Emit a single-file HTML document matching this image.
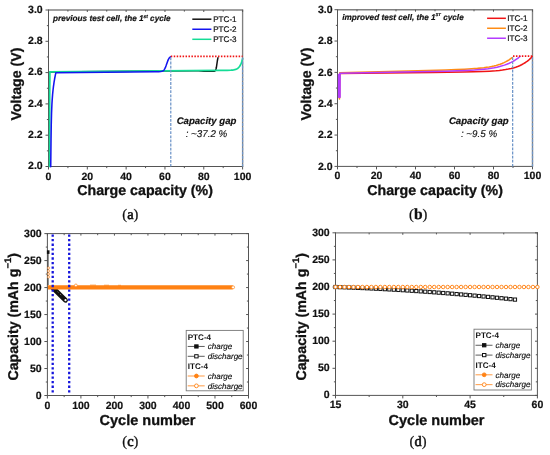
<!DOCTYPE html>
<html><head><meta charset="utf-8"><title>Figure</title>
<style>
html,body{margin:0;padding:0;background:#fff}
svg{display:block}
text{font-family:"Liberation Sans",Arial,sans-serif;fill:#111;text-rendering:geometricPrecision}
.tk{font-weight:bold;stroke:#111;stroke-width:0.2}
.ttl{font-weight:bold;stroke:#111;stroke-width:0.3}
.ann{font-weight:bold;font-style:italic;stroke:#111;stroke-width:0.2}
.anr{font-style:italic;stroke:#111;stroke-width:0.15}
.lg{stroke:#111;stroke-width:0.2}
.lgb{font-weight:bold}
.lgi{font-style:italic;stroke:#111;stroke-width:0.15}
.cap{font-family:"Liberation Serif","DejaVu Serif",serif;stroke:#111;stroke-width:0.25}
.capl{stroke-width:0.6}
.capb{font-weight:bold;font-size:15.5px}
</style></head><body>
<svg width="550" height="455" viewBox="0 0 550 455">
<rect width="550" height="455" fill="#fff"/>
<path d="M48.0 166.5H243.1" stroke="#555" stroke-width="1" fill="none"/>
<path d="M48.5 9.5V167.0" stroke="#555" stroke-width="1" fill="none"/>
<path d="M48.0 10.0H243.1" stroke="#808080" stroke-width="1.35" fill="none"/>
<path d="M242.6 9.5V167.0" stroke="#808080" stroke-width="1.35" fill="none"/>
<path d="M48.50 166.5v3M48.50 10.0v2M87.32 166.5v3M87.32 10.0v2M126.14 166.5v3M126.14 10.0v2M164.96 166.5v3M164.96 10.0v2M203.78 166.5v3M203.78 10.0v2M242.60 166.5v3M242.60 10.0v2M67.91 166.5v1.6M67.91 10.0v1.6M106.73 166.5v1.6M106.73 10.0v1.6M145.55 166.5v1.6M145.55 10.0v1.6M184.37 166.5v1.6M184.37 10.0v1.6M223.19 166.5v1.6M223.19 10.0v1.6M48.5 166.50h-3M48.5 135.20h-3M48.5 103.90h-3M48.5 72.60h-3M48.5 41.30h-3M48.5 10.00h-3M48.5 150.85h-1.6M48.5 119.55h-1.6M48.5 88.25h-1.6M48.5 56.95h-1.6M48.5 25.65h-1.6" stroke="#555" stroke-width="1" fill="none"/>
<text x="48.50" y="179.50" text-anchor="middle" class="tk" font-size="10.5">0</text>
<text x="87.32" y="179.50" text-anchor="middle" class="tk" font-size="10.5">20</text>
<text x="126.14" y="179.50" text-anchor="middle" class="tk" font-size="10.5">40</text>
<text x="164.96" y="179.50" text-anchor="middle" class="tk" font-size="10.5">60</text>
<text x="203.78" y="179.50" text-anchor="middle" class="tk" font-size="10.5">80</text>
<text x="242.60" y="179.50" text-anchor="middle" class="tk" font-size="10.5">100</text>
<text x="42.70" y="169.10" text-anchor="end" class="tk" font-size="10.5">2.0</text>
<text x="42.70" y="137.80" text-anchor="end" class="tk" font-size="10.5">2.2</text>
<text x="42.70" y="106.50" text-anchor="end" class="tk" font-size="10.5">2.4</text>
<text x="42.70" y="75.20" text-anchor="end" class="tk" font-size="10.5">2.6</text>
<text x="42.70" y="43.90" text-anchor="end" class="tk" font-size="10.5">2.8</text>
<text x="42.70" y="12.60" text-anchor="end" class="tk" font-size="10.5">3.0</text>
<path d="M50.05 71.97L193.10 70.70L196.21 70.70L198.54 70.76L203.97 71.18L206.11 71.28L210.19 71.31L213.68 71.25L214.26 71.18L214.65 71.07L215.04 70.85L215.23 70.67L215.62 70.09L216.01 69.02L216.40 67.27L217.37 60.75L217.76 58.63L217.95 57.85" fill="none" stroke="#111" stroke-width="1.5" stroke-linejoin="round" stroke-linecap="round" />
<path d="M49.60 166.50L49.70 96.07L49.90 71.97L219.70 70.45L227.07 70.35L230.95 70.19L232.51 70.06L233.67 69.89L234.64 69.70L235.61 69.42L236.39 69.11L237.17 68.71L237.94 68.18L238.52 67.67L239.11 67.04L239.69 66.26L240.27 65.29L240.85 64.10L241.44 62.62L241.82 61.44L242.60 58.52" fill="none" stroke="#14dc96" stroke-width="1.7" stroke-linejoin="round" stroke-linecap="round" />
<path d="M50.73 166.66L51.03 138.49L51.25 124.40L51.53 113.45L51.93 104.06L52.22 99.36L52.58 94.67L53.04 89.97L53.41 86.84L54.07 82.15L54.59 79.02L55.19 75.89L55.88 72.69L154.87 71.80L158.75 71.73L160.69 71.59L161.85 71.35L162.44 71.14L162.82 70.95L163.60 70.37L163.99 69.95L164.38 69.43L164.96 68.42L165.54 67.13L166.12 65.58L167.48 61.63L168.07 60.15L168.45 59.32L168.84 58.62L169.42 57.79L170.01 57.21L170.59 56.80" fill="none" stroke="#1414f0" stroke-width="1.55" stroke-linejoin="round" stroke-linecap="round" />
<path d="M170.78 56.32H242.6" stroke="#f01414" stroke-width="1.7" stroke-dasharray="1.5 1.45" fill="none"/>
<path d="M170.78 57.52V166.5M242.6 57.52V166.5" stroke="#6e95c8" stroke-width="1.25" stroke-dasharray="2.8 1.3" fill="none"/>
<text x="145.1" y="194.5" text-anchor="middle" class="ttl" font-size="14.2">Charge capacity (%)</text>
<text transform="translate(20.8 84) rotate(-90)" text-anchor="middle" class="ttl" font-size="14.2">Voltage (V)</text>
<text x="53" y="21.4" class="ann" font-size="8.2">previous test cell, the 1<tspan dy="-3.2" font-size="4.8">st</tspan><tspan dy="3.2"> cycle</tspan></text>
<path d="M192.3 19.20H211.4" stroke="#111" stroke-width="1.5"/>
<text x="213.2" y="22.10" class="lg" font-size="8.1">PTC-1</text>
<path d="M192.3 29.25H211.4" stroke="#1414f0" stroke-width="1.5"/>
<text x="213.2" y="32.15" class="lg" font-size="8.1">PTC-2</text>
<path d="M192.3 39.30H211.4" stroke="#14dc96" stroke-width="1.5"/>
<text x="213.2" y="42.20" class="lg" font-size="8.1">PTC-3</text>
<text x="206.5" y="123.7" text-anchor="middle" class="ann" font-size="9.6">Capacity gap</text>
<text x="206.5" y="136.8" text-anchor="middle" class="anr" font-size="9.8">: ~37.2 %</text>
<text x="130.4" y="219.2" text-anchor="middle" class="cap" font-size="14.5">(<tspan class="capl">a</tspan>)</text>
<path d="M337.0 166.4H533.0" stroke="#555" stroke-width="1" fill="none"/>
<path d="M337.5 9.2V166.9" stroke="#555" stroke-width="1" fill="none"/>
<path d="M337.0 9.7H533.0" stroke="#808080" stroke-width="1.35" fill="none"/>
<path d="M532.5 9.2V166.9" stroke="#808080" stroke-width="1.35" fill="none"/>
<path d="M337.50 166.4v3M337.50 9.7v2M376.50 166.4v3M376.50 9.7v2M415.50 166.4v3M415.50 9.7v2M454.50 166.4v3M454.50 9.7v2M493.50 166.4v3M493.50 9.7v2M532.50 166.4v3M532.50 9.7v2M357.00 166.4v1.6M357.00 9.7v1.6M396.00 166.4v1.6M396.00 9.7v1.6M435.00 166.4v1.6M435.00 9.7v1.6M474.00 166.4v1.6M474.00 9.7v1.6M513.00 166.4v1.6M513.00 9.7v1.6M337.5 166.40h-3M337.5 135.06h-3M337.5 103.72h-3M337.5 72.38h-3M337.5 41.04h-3M337.5 9.70h-3M337.5 150.73h-1.6M337.5 119.39h-1.6M337.5 88.05h-1.6M337.5 56.71h-1.6M337.5 25.37h-1.6" stroke="#555" stroke-width="1" fill="none"/>
<text x="337.50" y="179.40" text-anchor="middle" class="tk" font-size="10.5">0</text>
<text x="376.50" y="179.40" text-anchor="middle" class="tk" font-size="10.5">20</text>
<text x="415.50" y="179.40" text-anchor="middle" class="tk" font-size="10.5">40</text>
<text x="454.50" y="179.40" text-anchor="middle" class="tk" font-size="10.5">60</text>
<text x="493.50" y="179.40" text-anchor="middle" class="tk" font-size="10.5">80</text>
<text x="532.50" y="179.40" text-anchor="middle" class="tk" font-size="10.5">100</text>
<text x="332.60" y="169.80" text-anchor="end" class="tk" font-size="10.5">2.0</text>
<text x="332.60" y="138.46" text-anchor="end" class="tk" font-size="10.5">2.2</text>
<text x="332.60" y="107.12" text-anchor="end" class="tk" font-size="10.5">2.4</text>
<text x="332.60" y="75.78" text-anchor="end" class="tk" font-size="10.5">2.6</text>
<text x="332.60" y="44.44" text-anchor="end" class="tk" font-size="10.5">2.8</text>
<text x="332.60" y="13.10" text-anchor="end" class="tk" font-size="10.5">3.0</text>
<path d="M339.45 97.45L339.64 74.18L339.84 73.39L432.66 72.44L462.69 72.05L474.00 71.82L482.58 71.55L489.60 71.21L495.84 70.77L499.35 70.44L502.47 70.06L505.59 69.60L508.32 69.11L511.05 68.51L513.39 67.90L515.73 67.18L517.68 66.48L519.63 65.68L521.58 64.75L523.53 63.69L525.48 62.47L527.43 61.06L528.99 59.79L530.55 58.36L532.11 56.76" fill="none" stroke="#f01414" stroke-width="1.55" stroke-linejoin="round" stroke-linecap="round" />
<path d="M339.45 99.02L339.64 73.48L339.84 72.68L417.84 70.70L445.92 69.92L456.45 69.56L464.64 69.20L471.66 68.80L477.51 68.36L483.75 67.71L486.48 67.34L489.21 66.91L491.55 66.48L493.89 65.97L496.23 65.39L498.18 64.82L500.13 64.18L502.08 63.45L504.03 62.61L505.98 61.65L507.54 60.78L509.10 59.81L510.66 58.73L512.22 57.52" fill="none" stroke="#ff8c14" stroke-width="1.55" stroke-linejoin="round" stroke-linecap="round" />
<path d="M339.45 97.45L339.64 74.03L339.84 73.23L415.50 71.85L445.92 71.18L457.23 70.83L466.59 70.45L474.39 70.00L481.02 69.47L484.53 69.12L488.04 68.69L491.16 68.23L494.28 67.70L497.01 67.14L499.74 66.50L502.08 65.86L504.42 65.12L506.76 64.28L508.71 63.48L511.05 62.40L513.00 61.37L514.95 60.22L516.51 59.20L518.46 57.77L520.02 56.51" fill="none" stroke="#b43cff" stroke-width="1.55" stroke-linejoin="round" stroke-linecap="round" />
<path d="M339.3 97.77V73.95" stroke="#b43cff" stroke-width="2.9" fill="none"/>
<path d="M513.00 56.08H532.5" stroke="#f01414" stroke-width="1.7" stroke-dasharray="1.5 1.45" fill="none"/>
<path d="M512.65 57.28V166.4M532.5 57.28V166.4" stroke="#6e95c8" stroke-width="1.25" stroke-dasharray="2.8 1.3" fill="none"/>
<text x="435.1" y="194.5" text-anchor="middle" class="ttl" font-size="14.2">Charge capacity (%)</text>
<text transform="translate(310.8 84) rotate(-90)" text-anchor="middle" class="ttl" font-size="14.2">Voltage (V)</text>
<text x="342.3" y="19.6" class="ann" font-size="8.2">improved test cell, the 1<tspan dy="-3.2" font-size="4.2">ST</tspan><tspan dy="3.2"> cycle</tspan></text>
<path d="M487.1 18.30H505.9" stroke="#f01414" stroke-width="1.5"/>
<text x="507.2" y="21.20" class="lg" font-size="8.1">ITC-1</text>
<path d="M487.1 28.27H505.9" stroke="#ff8c14" stroke-width="1.5"/>
<text x="507.2" y="31.17" class="lg" font-size="8.1">ITC-2</text>
<path d="M487.1 38.24H505.9" stroke="#b43cff" stroke-width="1.5"/>
<text x="507.2" y="41.14" class="lg" font-size="8.1">ITC-3</text>
<text x="478.8" y="124.3" text-anchor="middle" class="ann" font-size="9.6">Capacity gap</text>
<text x="479" y="137.1" text-anchor="middle" class="anr" font-size="9.8">: ~9.5 %</text>
<text x="418.2" y="219.2" text-anchor="middle" class="cap" font-size="14.5">(<tspan class="capb">b</tspan>)</text>
<path d="M46.9 395.5H249.0" stroke="#555" stroke-width="1" fill="none"/>
<path d="M47.4 233.1V396.0" stroke="#555" stroke-width="1" fill="none"/>
<path d="M46.9 233.6H249.0" stroke="#555" stroke-width="1" fill="none"/>
<path d="M248.5 233.1V396.0" stroke="#555" stroke-width="1" fill="none"/>
<path d="M47.40 395.5v3M47.40 233.6v2M80.92 395.5v3M80.92 233.6v2M114.43 395.5v3M114.43 233.6v2M147.95 395.5v3M147.95 233.6v2M181.47 395.5v3M181.47 233.6v2M214.98 395.5v3M214.98 233.6v2M248.50 395.5v3M248.50 233.6v2M64.16 395.5v1.6M64.16 233.6v1.6M97.67 395.5v1.6M97.67 233.6v1.6M131.19 395.5v1.6M131.19 233.6v1.6M164.71 395.5v1.6M164.71 233.6v1.6M198.22 395.5v1.6M198.22 233.6v1.6M231.74 395.5v1.6M231.74 233.6v1.6M47.4 395.50h-3M248.5 395.50h-2.4M47.4 368.52h-3M248.5 368.52h-2.4M47.4 341.53h-3M248.5 341.53h-2.4M47.4 314.55h-3M248.5 314.55h-2.4M47.4 287.57h-3M248.5 287.57h-2.4M47.4 260.58h-3M248.5 260.58h-2.4M47.4 233.60h-3M248.5 233.60h-2.4M47.4 382.01h-1.6M248.5 382.01h-1.6M47.4 355.02h-1.6M248.5 355.02h-1.6M47.4 328.04h-1.6M248.5 328.04h-1.6M47.4 301.06h-1.6M248.5 301.06h-1.6M47.4 274.07h-1.6M248.5 274.07h-1.6M47.4 247.09h-1.6M248.5 247.09h-1.6" stroke="#555" stroke-width="1" fill="none"/>
<text x="47.40" y="408.50" text-anchor="middle" class="tk" font-size="10.5">0</text>
<text x="80.92" y="408.50" text-anchor="middle" class="tk" font-size="10.5">100</text>
<text x="114.43" y="408.50" text-anchor="middle" class="tk" font-size="10.5">200</text>
<text x="147.95" y="408.50" text-anchor="middle" class="tk" font-size="10.5">300</text>
<text x="181.47" y="408.50" text-anchor="middle" class="tk" font-size="10.5">400</text>
<text x="214.98" y="408.50" text-anchor="middle" class="tk" font-size="10.5">500</text>
<text x="248.50" y="408.50" text-anchor="middle" class="tk" font-size="10.5">600</text>
<text x="41.60" y="398.50" text-anchor="end" class="tk" font-size="10.5">0</text>
<text x="41.60" y="371.52" text-anchor="end" class="tk" font-size="10.5">50</text>
<text x="41.60" y="344.53" text-anchor="end" class="tk" font-size="10.5">100</text>
<text x="41.60" y="317.55" text-anchor="end" class="tk" font-size="10.5">150</text>
<text x="41.60" y="290.57" text-anchor="end" class="tk" font-size="10.5">200</text>
<text x="41.60" y="263.58" text-anchor="end" class="tk" font-size="10.5">250</text>
<text x="41.60" y="236.60" text-anchor="end" class="tk" font-size="10.5">300</text>
<path d="M48.2 252V285" stroke="#222" stroke-width="0.7"/>
<rect x="46.9" y="250.3" width="2.6" height="3.6" fill="#111"/>
<circle cx="48.6" cy="268" r="1.1" fill="#fff" stroke="#ff8214" stroke-width="0.6"/>
<circle cx="48.6" cy="271" r="1.1" fill="#fff" stroke="#ff8214" stroke-width="0.6"/>
<circle cx="48.6" cy="274" r="1.1" fill="#fff" stroke="#ff8214" stroke-width="0.6"/>
<circle cx="48.6" cy="277" r="1.1" fill="#fff" stroke="#ff8214" stroke-width="0.6"/>
<path d="M53 288L65.5 300.2" stroke="#111" stroke-width="4.8" stroke-linecap="round" fill="none"/>
<circle cx="65.5" cy="300.2" r="1.1" fill="#fff"/>
<path d="M57.5 291.6l1 .9M60 294l1.2 1.1" stroke="#999" stroke-width="0.7" fill="none"/>
<path d="M47.90 287.45H232.75" stroke="#ff8214" stroke-width="4.2" fill="none"/>
<path d="M90 285.1h6M104 285.2h5M118 285.3h3" stroke="#ff8214" stroke-width="0.7" fill="none"/>
<circle cx="75.89" cy="285.41" r="1.4" fill="#fff" stroke="#ff8214" stroke-width="0.7"/>
<circle cx="233.08" cy="287.3" r="1.5" fill="#fff" stroke="#ff8214" stroke-width="0.7"/>
<path d="M52.7 234.45V393M69.2 234.45V393" stroke="#1414dc" stroke-width="2.3" stroke-dasharray="2.3 2.28" fill="none"/>
<text x="147.5" y="424.9" text-anchor="middle" class="ttl" font-size="14.5">Cycle number</text>
<text transform="translate(17.6 316.8) rotate(-90)" text-anchor="middle" class="ttl" font-size="14.2">Capacity (mAh g<tspan dy="-6.4" font-size="9.5">−1</tspan><tspan dy="6.4">)</tspan></text>
<rect x="186.2" y="330.4" width="57.00" height="60.40" fill="#fff" stroke="#777" stroke-width="0.9"/>
<text x="187.7" y="339.50" class="lgb" font-size="8.1">PTC-4</text>
<text x="187.7" y="369.05" class="lgb" font-size="8.1">ITC-4</text>
<path d="M187.7 346.45H204.7" stroke="#333" stroke-width="0.8"/>
<rect x="194.70" y="344.85" width="3.4" height="3.2" fill="#111" stroke="#111" stroke-width="1"/>
<text x="207.7" y="349.25" class="lgi" font-size="8.05">charge</text>
<path d="M187.7 356.30H204.7" stroke="#333" stroke-width="0.8"/>
<rect x="194.70" y="354.70" width="3.4" height="3.2" fill="#fff" stroke="#111" stroke-width="1"/>
<text x="207.7" y="359.10" class="lgi" font-size="8.05">discharge</text>
<path d="M187.7 376.00H204.7" stroke="#ff8214" stroke-width="0.8"/>
<circle cx="196.40" cy="376.00" r="1.9" fill="#ff8214" stroke="#ff8214" stroke-width="0.9"/>
<text x="207.7" y="378.80" class="lgi" font-size="8.05">charge</text>
<path d="M187.7 385.85H204.7" stroke="#ff8214" stroke-width="0.8"/>
<circle cx="196.40" cy="385.85" r="1.9" fill="#fff" stroke="#ff8214" stroke-width="0.9"/>
<text x="207.7" y="388.65" class="lgi" font-size="8.05">discharge</text>
<text x="130.4" y="445.8" text-anchor="middle" class="cap" font-size="14.5">(<tspan class="capl">c</tspan>)</text>
<path d="M335.0 395.4H537.9" stroke="#555" stroke-width="1" fill="none"/>
<path d="M335.5 232.3V395.9" stroke="#555" stroke-width="1" fill="none"/>
<path d="M335.0 232.8H537.9" stroke="#808080" stroke-width="1.35" fill="none"/>
<path d="M537.4 232.3V395.9" stroke="#555" stroke-width="1" fill="none"/>
<path d="M335.50 395.4v3M335.50 232.8v2M402.80 395.4v3M402.80 232.8v2M470.10 395.4v3M470.10 232.8v2M537.40 395.4v3M537.40 232.8v2M369.15 395.4v1.6M369.15 232.8v1.6M436.45 395.4v1.6M436.45 232.8v1.6M503.75 395.4v1.6M503.75 232.8v1.6M335.5 395.40h-3M537.4 395.40h-2.4M335.5 368.30h-3M537.4 368.30h-2.4M335.5 341.20h-3M537.4 341.20h-2.4M335.5 314.10h-3M537.4 314.10h-2.4M335.5 287.00h-3M537.4 287.00h-2.4M335.5 259.90h-3M537.4 259.90h-2.4M335.5 232.80h-3M537.4 232.80h-2.4M335.5 381.85h-1.6M537.4 381.85h-1.6M335.5 354.75h-1.6M537.4 354.75h-1.6M335.5 327.65h-1.6M537.4 327.65h-1.6M335.5 300.55h-1.6M537.4 300.55h-1.6M335.5 273.45h-1.6M537.4 273.45h-1.6M335.5 246.35h-1.6M537.4 246.35h-1.6" stroke="#555" stroke-width="1" fill="none"/>
<text x="335.50" y="408.40" text-anchor="middle" class="tk" font-size="10.5">15</text>
<text x="402.80" y="408.40" text-anchor="middle" class="tk" font-size="10.5">30</text>
<text x="470.10" y="408.40" text-anchor="middle" class="tk" font-size="10.5">45</text>
<text x="537.40" y="408.40" text-anchor="middle" class="tk" font-size="10.5">60</text>
<text x="329.70" y="398.40" text-anchor="end" class="tk" font-size="10.5">0</text>
<text x="329.70" y="371.30" text-anchor="end" class="tk" font-size="10.5">50</text>
<text x="329.70" y="344.20" text-anchor="end" class="tk" font-size="10.5">100</text>
<text x="329.70" y="317.10" text-anchor="end" class="tk" font-size="10.5">150</text>
<text x="329.70" y="290.00" text-anchor="end" class="tk" font-size="10.5">200</text>
<text x="329.70" y="262.90" text-anchor="end" class="tk" font-size="10.5">250</text>
<text x="329.70" y="235.80" text-anchor="end" class="tk" font-size="10.5">300</text>
<rect x="333.90" y="285.40" width="3.2" height="3.2" fill="#fff" stroke="#111" stroke-width="1"/>
<rect x="338.39" y="285.56" width="3.2" height="3.2" fill="#fff" stroke="#111" stroke-width="1"/>
<rect x="342.87" y="285.72" width="3.2" height="3.2" fill="#fff" stroke="#111" stroke-width="1"/>
<rect x="347.36" y="285.90" width="3.2" height="3.2" fill="#fff" stroke="#111" stroke-width="1"/>
<rect x="351.85" y="286.08" width="3.2" height="3.2" fill="#fff" stroke="#111" stroke-width="1"/>
<rect x="356.33" y="286.27" width="3.2" height="3.2" fill="#fff" stroke="#111" stroke-width="1"/>
<rect x="360.82" y="286.46" width="3.2" height="3.2" fill="#fff" stroke="#111" stroke-width="1"/>
<rect x="365.31" y="286.67" width="3.2" height="3.2" fill="#fff" stroke="#111" stroke-width="1"/>
<rect x="369.79" y="286.88" width="3.2" height="3.2" fill="#fff" stroke="#111" stroke-width="1"/>
<rect x="374.28" y="287.10" width="3.2" height="3.2" fill="#fff" stroke="#111" stroke-width="1"/>
<rect x="378.77" y="287.33" width="3.2" height="3.2" fill="#fff" stroke="#111" stroke-width="1"/>
<rect x="383.25" y="287.57" width="3.2" height="3.2" fill="#fff" stroke="#111" stroke-width="1"/>
<rect x="387.74" y="287.82" width="3.2" height="3.2" fill="#fff" stroke="#111" stroke-width="1"/>
<rect x="392.23" y="288.07" width="3.2" height="3.2" fill="#fff" stroke="#111" stroke-width="1"/>
<rect x="396.71" y="288.33" width="3.2" height="3.2" fill="#fff" stroke="#111" stroke-width="1"/>
<rect x="401.20" y="288.60" width="3.2" height="3.2" fill="#fff" stroke="#111" stroke-width="1"/>
<rect x="405.69" y="288.88" width="3.2" height="3.2" fill="#fff" stroke="#111" stroke-width="1"/>
<rect x="410.17" y="289.17" width="3.2" height="3.2" fill="#fff" stroke="#111" stroke-width="1"/>
<rect x="414.66" y="289.46" width="3.2" height="3.2" fill="#fff" stroke="#111" stroke-width="1"/>
<rect x="419.15" y="289.77" width="3.2" height="3.2" fill="#fff" stroke="#111" stroke-width="1"/>
<rect x="423.63" y="290.08" width="3.2" height="3.2" fill="#fff" stroke="#111" stroke-width="1"/>
<rect x="428.12" y="290.40" width="3.2" height="3.2" fill="#fff" stroke="#111" stroke-width="1"/>
<rect x="432.61" y="290.72" width="3.2" height="3.2" fill="#fff" stroke="#111" stroke-width="1"/>
<rect x="437.09" y="291.06" width="3.2" height="3.2" fill="#fff" stroke="#111" stroke-width="1"/>
<rect x="441.58" y="291.40" width="3.2" height="3.2" fill="#fff" stroke="#111" stroke-width="1"/>
<rect x="446.07" y="291.75" width="3.2" height="3.2" fill="#fff" stroke="#111" stroke-width="1"/>
<rect x="450.55" y="292.11" width="3.2" height="3.2" fill="#fff" stroke="#111" stroke-width="1"/>
<rect x="455.04" y="292.48" width="3.2" height="3.2" fill="#fff" stroke="#111" stroke-width="1"/>
<rect x="459.53" y="292.86" width="3.2" height="3.2" fill="#fff" stroke="#111" stroke-width="1"/>
<rect x="464.01" y="293.24" width="3.2" height="3.2" fill="#fff" stroke="#111" stroke-width="1"/>
<rect x="468.50" y="293.63" width="3.2" height="3.2" fill="#fff" stroke="#111" stroke-width="1"/>
<rect x="472.99" y="294.03" width="3.2" height="3.2" fill="#fff" stroke="#111" stroke-width="1"/>
<rect x="477.47" y="294.44" width="3.2" height="3.2" fill="#fff" stroke="#111" stroke-width="1"/>
<rect x="481.96" y="294.86" width="3.2" height="3.2" fill="#fff" stroke="#111" stroke-width="1"/>
<rect x="486.45" y="295.28" width="3.2" height="3.2" fill="#fff" stroke="#111" stroke-width="1"/>
<rect x="490.93" y="295.72" width="3.2" height="3.2" fill="#fff" stroke="#111" stroke-width="1"/>
<rect x="495.42" y="296.16" width="3.2" height="3.2" fill="#fff" stroke="#111" stroke-width="1"/>
<rect x="499.91" y="296.61" width="3.2" height="3.2" fill="#fff" stroke="#111" stroke-width="1"/>
<rect x="504.39" y="297.06" width="3.2" height="3.2" fill="#fff" stroke="#111" stroke-width="1"/>
<rect x="508.88" y="297.53" width="3.2" height="3.2" fill="#fff" stroke="#111" stroke-width="1"/>
<rect x="513.37" y="298.00" width="3.2" height="3.2" fill="#fff" stroke="#111" stroke-width="1"/>
<circle cx="335.50" cy="287.00" r="1.75" fill="#fff" stroke="#ff8214" stroke-width="0.95"/>
<circle cx="339.99" cy="287.00" r="1.75" fill="#fff" stroke="#ff8214" stroke-width="0.95"/>
<circle cx="344.47" cy="287.00" r="1.75" fill="#fff" stroke="#ff8214" stroke-width="0.95"/>
<circle cx="348.96" cy="287.00" r="1.75" fill="#fff" stroke="#ff8214" stroke-width="0.95"/>
<circle cx="353.45" cy="287.00" r="1.75" fill="#fff" stroke="#ff8214" stroke-width="0.95"/>
<circle cx="357.93" cy="287.00" r="1.75" fill="#fff" stroke="#ff8214" stroke-width="0.95"/>
<circle cx="362.42" cy="287.00" r="1.75" fill="#fff" stroke="#ff8214" stroke-width="0.95"/>
<circle cx="366.91" cy="287.00" r="1.75" fill="#fff" stroke="#ff8214" stroke-width="0.95"/>
<circle cx="371.39" cy="287.00" r="1.75" fill="#fff" stroke="#ff8214" stroke-width="0.95"/>
<circle cx="375.88" cy="287.00" r="1.75" fill="#fff" stroke="#ff8214" stroke-width="0.95"/>
<circle cx="380.37" cy="287.00" r="1.75" fill="#fff" stroke="#ff8214" stroke-width="0.95"/>
<circle cx="384.85" cy="287.00" r="1.75" fill="#fff" stroke="#ff8214" stroke-width="0.95"/>
<circle cx="389.34" cy="287.00" r="1.75" fill="#fff" stroke="#ff8214" stroke-width="0.95"/>
<circle cx="393.83" cy="287.00" r="1.75" fill="#fff" stroke="#ff8214" stroke-width="0.95"/>
<circle cx="398.31" cy="287.00" r="1.75" fill="#fff" stroke="#ff8214" stroke-width="0.95"/>
<circle cx="402.80" cy="287.00" r="1.75" fill="#fff" stroke="#ff8214" stroke-width="0.95"/>
<circle cx="407.29" cy="287.00" r="1.75" fill="#fff" stroke="#ff8214" stroke-width="0.95"/>
<circle cx="411.77" cy="287.00" r="1.75" fill="#fff" stroke="#ff8214" stroke-width="0.95"/>
<circle cx="416.26" cy="287.00" r="1.75" fill="#fff" stroke="#ff8214" stroke-width="0.95"/>
<circle cx="420.75" cy="287.00" r="1.75" fill="#fff" stroke="#ff8214" stroke-width="0.95"/>
<circle cx="425.23" cy="287.00" r="1.75" fill="#fff" stroke="#ff8214" stroke-width="0.95"/>
<circle cx="429.72" cy="287.00" r="1.75" fill="#fff" stroke="#ff8214" stroke-width="0.95"/>
<circle cx="434.21" cy="287.00" r="1.75" fill="#fff" stroke="#ff8214" stroke-width="0.95"/>
<circle cx="438.69" cy="287.00" r="1.75" fill="#fff" stroke="#ff8214" stroke-width="0.95"/>
<circle cx="443.18" cy="287.00" r="1.75" fill="#fff" stroke="#ff8214" stroke-width="0.95"/>
<circle cx="447.67" cy="287.00" r="1.75" fill="#fff" stroke="#ff8214" stroke-width="0.95"/>
<circle cx="452.15" cy="287.00" r="1.75" fill="#fff" stroke="#ff8214" stroke-width="0.95"/>
<circle cx="456.64" cy="287.00" r="1.75" fill="#fff" stroke="#ff8214" stroke-width="0.95"/>
<circle cx="461.13" cy="287.00" r="1.75" fill="#fff" stroke="#ff8214" stroke-width="0.95"/>
<circle cx="465.61" cy="287.00" r="1.75" fill="#fff" stroke="#ff8214" stroke-width="0.95"/>
<circle cx="470.10" cy="287.00" r="1.75" fill="#fff" stroke="#ff8214" stroke-width="0.95"/>
<circle cx="474.59" cy="287.00" r="1.75" fill="#fff" stroke="#ff8214" stroke-width="0.95"/>
<circle cx="479.07" cy="287.00" r="1.75" fill="#fff" stroke="#ff8214" stroke-width="0.95"/>
<circle cx="483.56" cy="287.00" r="1.75" fill="#fff" stroke="#ff8214" stroke-width="0.95"/>
<circle cx="488.05" cy="287.00" r="1.75" fill="#fff" stroke="#ff8214" stroke-width="0.95"/>
<circle cx="492.53" cy="287.00" r="1.75" fill="#fff" stroke="#ff8214" stroke-width="0.95"/>
<circle cx="497.02" cy="287.00" r="1.75" fill="#fff" stroke="#ff8214" stroke-width="0.95"/>
<circle cx="501.51" cy="287.00" r="1.75" fill="#fff" stroke="#ff8214" stroke-width="0.95"/>
<circle cx="505.99" cy="287.00" r="1.75" fill="#fff" stroke="#ff8214" stroke-width="0.95"/>
<circle cx="510.48" cy="287.00" r="1.75" fill="#fff" stroke="#ff8214" stroke-width="0.95"/>
<circle cx="514.97" cy="287.00" r="1.75" fill="#fff" stroke="#ff8214" stroke-width="0.95"/>
<circle cx="519.45" cy="287.00" r="1.75" fill="#fff" stroke="#ff8214" stroke-width="0.95"/>
<circle cx="523.94" cy="287.00" r="1.75" fill="#fff" stroke="#ff8214" stroke-width="0.95"/>
<circle cx="528.43" cy="287.00" r="1.75" fill="#fff" stroke="#ff8214" stroke-width="0.95"/>
<circle cx="532.91" cy="287.00" r="1.75" fill="#fff" stroke="#ff8214" stroke-width="0.95"/>
<circle cx="537.40" cy="287.00" r="1.75" fill="#fff" stroke="#ff8214" stroke-width="0.95"/>
<text x="436.5" y="424.9" text-anchor="middle" class="ttl" font-size="14.5">Cycle number</text>
<text transform="translate(305.7 316.8) rotate(-90)" text-anchor="middle" class="ttl" font-size="14.2">Capacity (mAh g<tspan dy="-6.4" font-size="9.5">−1</tspan><tspan dy="6.4">)</tspan></text>
<rect x="474" y="329.2" width="57.40" height="60.80" fill="#fff" stroke="#777" stroke-width="0.9"/>
<text x="475.5" y="338.30" class="lgb" font-size="8.1">PTC-4</text>
<text x="475.5" y="367.85" class="lgb" font-size="8.1">ITC-4</text>
<path d="M475.5 345.25H492.5" stroke="#333" stroke-width="0.8"/>
<rect x="482.50" y="343.65" width="3.4" height="3.2" fill="#111" stroke="#111" stroke-width="1"/>
<text x="495.5" y="348.05" class="lgi" font-size="8.05">charge</text>
<path d="M475.5 355.10H492.5" stroke="#333" stroke-width="0.8"/>
<rect x="482.50" y="353.50" width="3.4" height="3.2" fill="#fff" stroke="#111" stroke-width="1"/>
<text x="495.5" y="357.90" class="lgi" font-size="8.05">discharge</text>
<path d="M475.5 374.80H492.5" stroke="#ff8214" stroke-width="0.8"/>
<circle cx="484.20" cy="374.80" r="1.9" fill="#ff8214" stroke="#ff8214" stroke-width="0.9"/>
<text x="495.5" y="377.60" class="lgi" font-size="8.05">charge</text>
<path d="M475.5 384.65H492.5" stroke="#ff8214" stroke-width="0.8"/>
<circle cx="484.20" cy="384.65" r="1.9" fill="#fff" stroke="#ff8214" stroke-width="0.9"/>
<text x="495.5" y="387.45" class="lgi" font-size="8.05">discharge</text>
<text x="418" y="445.8" text-anchor="middle" class="cap" font-size="14.5">(<tspan class="capl">d</tspan>)</text>
</svg>
</body></html>
